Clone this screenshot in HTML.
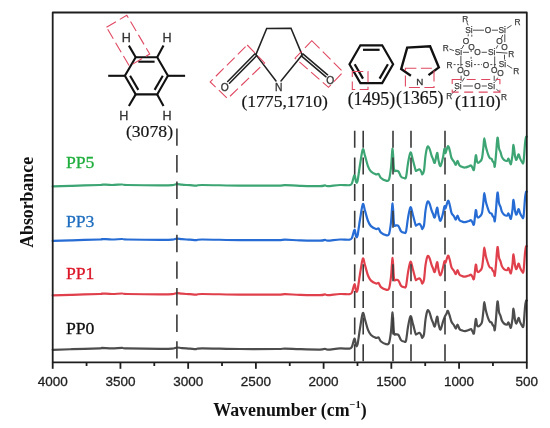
<!DOCTYPE html>
<html><head><meta charset="utf-8"><title>FTIR spectra</title>
<style>html,body{margin:0;padding:0;background:#fff;}svg{display:block;}</style></head>
<body>
<svg width="550" height="428" viewBox="0 0 550 428">
<rect width="550" height="428" fill="#fff"/>
<path d="M52.70,186.41C55.92,186.31 64.12,186.04 72.00,185.80C79.88,185.57 95.00,185.21 100.00,185.00C105.00,184.78 100.00,184.49 102.00,184.49C104.00,184.49 108.67,185.00 112.00,185.00C115.33,185.00 119.50,184.49 122.00,184.49C124.50,184.49 120.67,184.84 127.00,185.00C133.33,185.15 152.50,185.37 160.00,185.40C167.50,185.43 169.17,185.42 172.00,185.20C174.83,184.98 175.33,184.17 177.00,184.09C178.67,184.00 179.83,184.51 182.00,184.69C184.17,184.88 187.67,185.03 190.00,185.20C192.33,185.37 194.00,185.74 196.00,185.70C198.00,185.67 194.67,185.01 202.00,185.00C209.33,184.98 227.50,185.50 240.00,185.60C252.50,185.70 269.50,185.67 277.00,185.60C284.50,185.53 281.17,185.16 285.00,185.20C288.83,185.23 294.17,185.64 300.00,185.80C305.83,185.97 315.83,186.28 320.00,186.21C324.17,186.14 323.67,185.40 325.00,185.40C326.33,185.40 325.50,186.28 328.00,186.21C330.50,186.14 336.42,185.16 340.00,185.00C343.58,184.83 347.50,185.50 349.50,185.20C351.50,184.90 351.17,184.86 352.00,183.18C352.83,181.49 353.83,175.35 354.50,175.10C355.17,174.85 355.50,180.65 356.00,181.66C356.50,182.67 356.83,183.97 357.50,181.16C358.17,178.35 359.12,170.10 360.00,164.80C360.88,159.49 361.97,150.82 362.80,149.34C363.63,147.86 364.13,153.08 365.00,155.91C365.87,158.74 367.00,163.72 368.00,166.31C369.00,168.90 369.67,170.12 371.00,171.46C372.33,172.81 374.75,173.99 376.00,174.39C377.25,174.80 377.67,173.28 378.50,173.89C379.33,174.49 379.75,176.90 381.00,178.03C382.25,179.15 384.67,180.40 386.00,180.65C387.33,180.91 388.17,181.70 389.00,179.54C389.83,177.39 390.40,172.88 391.00,167.72C391.60,162.57 392.10,148.38 392.60,148.64C393.10,148.89 393.43,165.57 394.00,169.24C394.57,172.91 395.25,170.28 396.00,170.65C396.75,171.02 397.67,170.47 398.50,171.46C399.33,172.46 400.08,175.52 401.00,176.61C401.92,177.71 403.17,177.94 404.00,178.03C404.83,178.11 405.33,179.56 406.00,177.12C406.67,174.68 407.25,167.51 408.00,163.38C408.75,159.26 409.67,152.86 410.50,152.37C411.33,151.88 412.17,157.52 413.00,160.45C413.83,163.38 414.92,168.25 415.50,169.95C416.08,171.65 415.85,170.77 416.50,170.65C417.15,170.54 418.58,169.00 419.40,169.24C420.22,169.48 420.92,171.21 421.40,172.07C421.88,172.93 421.87,174.63 422.30,174.39C422.73,174.16 423.47,173.73 424.00,170.65C424.53,167.57 424.92,159.88 425.50,155.91C426.08,151.94 426.83,148.03 427.50,146.82C428.17,145.61 428.83,147.22 429.50,148.64C430.17,150.05 430.92,153.58 431.50,155.30C432.08,157.02 432.45,157.69 433.00,158.94C433.55,160.18 434.12,163.79 434.80,162.78C435.48,161.77 436.48,153.30 437.10,152.88C437.72,152.46 437.93,158.05 438.50,160.25C439.07,162.46 439.75,166.58 440.50,166.11C441.25,165.64 442.33,160.34 443.00,157.42C443.67,154.51 444.08,149.36 444.50,148.64C444.92,147.91 444.92,153.50 445.50,153.08C446.08,152.66 447.25,146.36 448.00,146.11C448.75,145.86 449.42,149.58 450.00,151.56C450.58,153.55 450.83,156.35 451.50,158.03C452.17,159.71 453.28,160.50 454.00,161.67C454.72,162.83 455.22,165.12 455.80,165.00C456.38,164.88 456.88,160.89 457.50,160.96C458.12,161.03 458.75,164.43 459.50,165.40C460.25,166.38 461.08,166.46 462.00,166.82C462.92,167.17 463.83,167.61 465.00,167.52C466.17,167.44 468.00,166.65 469.00,166.31C470.00,165.97 470.42,165.27 471.00,165.50C471.58,165.74 472.00,167.05 472.50,167.72C473.00,168.40 473.45,171.60 474.00,169.54C474.55,167.49 475.30,156.73 475.80,155.40C476.30,154.07 476.63,160.32 477.00,161.56C477.37,162.81 477.50,162.88 478.00,162.88C478.50,162.88 479.33,162.34 480.00,161.56C480.67,160.79 481.42,160.82 482.00,158.23C482.58,155.64 483.12,149.34 483.50,146.01C483.88,142.68 483.93,138.23 484.30,138.23C484.67,138.23 485.25,143.89 485.70,146.01C486.15,148.13 486.50,149.29 487.00,150.96C487.50,152.63 488.20,154.80 488.70,156.01C489.20,157.22 489.53,157.78 490.00,158.23C490.47,158.69 491.08,158.28 491.50,158.74C491.92,159.19 492.08,160.22 492.50,160.96C492.92,161.70 493.62,162.25 494.00,163.18C494.38,164.11 494.47,167.89 494.80,166.51C495.13,165.13 495.55,159.71 496.00,154.90C496.45,150.08 497.00,138.74 497.50,137.63C498.00,136.52 498.50,145.82 499.00,148.23C499.50,150.64 500.00,150.59 500.50,152.07C501.00,153.55 501.42,155.82 502.00,157.12C502.58,158.42 503.17,159.21 504.00,159.85C504.83,160.49 506.25,161.14 507.00,160.96C507.75,160.77 508.00,158.45 508.50,158.74C509.00,159.02 509.58,161.83 510.00,162.68C510.42,163.52 510.58,165.08 511.00,163.79C511.42,162.49 512.08,158.05 512.50,154.90C512.92,151.75 513.08,144.71 513.50,144.90C513.92,145.08 514.50,153.52 515.00,156.01C515.50,158.50 515.92,160.13 516.50,159.85C517.08,159.56 517.92,154.56 518.50,154.29C519.08,154.02 519.42,156.93 520.00,158.23C520.58,159.53 521.42,161.43 522.00,162.07C522.58,162.71 523.00,165.12 523.50,162.07C524.00,159.02 524.58,147.95 525.00,143.79C525.42,139.63 525.70,138.30 526.00,137.12C526.30,135.94 526.67,136.79 526.80,136.72" fill="none" stroke="#3ca573" stroke-width="2.2" stroke-linejoin="round" stroke-linecap="round"/>
<path d="M52.70,240.90C55.92,240.80 64.12,240.53 72.00,240.30C79.88,240.07 95.00,239.72 100.00,239.50C105.00,239.28 100.00,239.00 102.00,239.00C104.00,239.00 108.67,239.50 112.00,239.50C115.33,239.50 119.50,239.00 122.00,239.00C124.50,239.00 120.67,239.35 127.00,239.50C133.33,239.65 152.50,239.87 160.00,239.90C167.50,239.93 169.17,239.92 172.00,239.70C174.83,239.48 175.33,238.68 177.00,238.60C178.67,238.52 179.83,239.02 182.00,239.20C184.17,239.38 187.67,239.53 190.00,239.70C192.33,239.87 194.00,240.23 196.00,240.20C198.00,240.17 194.67,239.52 202.00,239.50C209.33,239.48 227.50,240.00 240.00,240.10C252.50,240.20 269.50,240.17 277.00,240.10C284.50,240.03 281.17,239.67 285.00,239.70C288.83,239.73 294.17,240.13 300.00,240.30C305.83,240.47 315.83,240.77 320.00,240.70C324.17,240.63 323.67,239.90 325.00,239.90C326.33,239.90 325.50,240.77 328.00,240.70C330.50,240.63 336.42,239.67 340.00,239.50C343.58,239.33 347.50,240.00 349.50,239.70C351.50,239.40 351.17,239.37 352.00,237.70C352.83,236.03 353.83,229.95 354.50,229.70C355.17,229.45 355.50,235.20 356.00,236.20C356.50,237.20 356.83,238.48 357.50,235.70C358.17,232.92 359.12,224.75 360.00,219.50C360.88,214.25 361.97,205.67 362.80,204.20C363.63,202.73 364.13,207.90 365.00,210.70C365.87,213.50 367.00,218.43 368.00,221.00C369.00,223.57 369.67,224.77 371.00,226.10C372.33,227.43 374.75,228.60 376.00,229.00C377.25,229.40 377.67,227.90 378.50,228.50C379.33,229.10 379.75,231.48 381.00,232.60C382.25,233.72 384.67,234.95 386.00,235.20C387.33,235.45 388.17,236.23 389.00,234.10C389.83,231.97 390.40,227.50 391.00,222.40C391.60,217.30 392.10,203.25 392.60,203.50C393.10,203.75 393.43,220.27 394.00,223.90C394.57,227.53 395.25,224.93 396.00,225.30C396.75,225.67 397.67,225.12 398.50,226.10C399.33,227.08 400.08,230.12 401.00,231.20C401.92,232.28 403.17,232.52 404.00,232.60C404.83,232.68 405.33,234.12 406.00,231.70C406.67,229.28 407.25,222.18 408.00,218.10C408.75,214.02 409.67,207.68 410.50,207.20C411.33,206.72 412.17,212.30 413.00,215.20C413.83,218.10 414.92,222.92 415.50,224.60C416.08,226.28 415.85,225.42 416.50,225.30C417.15,225.18 418.58,223.67 419.40,223.90C420.22,224.13 420.92,225.85 421.40,226.70C421.88,227.55 421.87,229.23 422.30,229.00C422.73,228.77 423.47,228.35 424.00,225.30C424.53,222.25 424.92,214.63 425.50,210.70C426.08,206.77 426.83,202.90 427.50,201.70C428.17,200.50 428.83,202.10 429.50,203.50C430.17,204.90 430.92,208.40 431.50,210.10C432.08,211.80 432.45,212.47 433.00,213.70C433.55,214.93 434.12,218.50 434.80,217.50C435.48,216.50 436.48,208.12 437.10,207.70C437.72,207.28 437.93,212.82 438.50,215.00C439.07,217.18 439.75,221.10 440.50,220.80C441.25,220.50 442.33,215.63 443.00,213.20C443.67,210.77 444.08,207.00 444.50,206.20C444.92,205.40 444.92,209.30 445.50,208.40C446.08,207.50 447.28,201.33 448.00,200.80C448.72,200.27 449.22,203.20 449.80,205.20C450.38,207.20 450.80,210.93 451.50,212.80C452.20,214.67 453.28,215.25 454.00,216.40C454.72,217.55 455.22,219.82 455.80,219.70C456.38,219.58 456.88,215.63 457.50,215.70C458.12,215.77 458.75,219.13 459.50,220.10C460.25,221.07 461.08,221.15 462.00,221.50C462.92,221.85 463.83,222.28 465.00,222.20C466.17,222.12 468.00,221.33 469.00,221.00C470.00,220.67 470.42,219.97 471.00,220.20C471.58,220.43 472.00,221.73 472.50,222.40C473.00,223.07 473.45,226.23 474.00,224.20C474.55,222.17 475.30,211.52 475.80,210.20C476.30,208.88 476.63,215.07 477.00,216.30C477.37,217.53 477.50,217.60 478.00,217.60C478.50,217.60 479.33,217.07 480.00,216.30C480.67,215.53 481.42,215.57 482.00,213.00C482.58,210.43 483.12,204.20 483.50,200.90C483.88,197.60 483.93,193.20 484.30,193.20C484.67,193.20 485.25,198.80 485.70,200.90C486.15,203.00 486.50,204.15 487.00,205.80C487.50,207.45 488.20,209.60 488.70,210.80C489.20,212.00 489.53,212.55 490.00,213.00C490.47,213.45 491.08,213.05 491.50,213.50C491.92,213.95 492.08,214.97 492.50,215.70C492.92,216.43 493.62,216.98 494.00,217.90C494.38,218.82 494.47,222.57 494.80,221.20C495.13,219.83 495.55,214.47 496.00,209.70C496.45,204.93 497.00,193.70 497.50,192.60C498.00,191.50 498.50,200.72 499.00,203.10C499.50,205.48 500.00,205.43 500.50,206.90C501.00,208.37 501.42,210.62 502.00,211.90C502.58,213.18 503.17,213.97 504.00,214.60C504.83,215.23 506.25,215.88 507.00,215.70C507.75,215.52 508.00,213.22 508.50,213.50C509.00,213.78 509.58,216.57 510.00,217.40C510.42,218.23 510.58,219.78 511.00,218.50C511.42,217.22 512.08,212.82 512.50,209.70C512.92,206.58 513.08,199.62 513.50,199.80C513.92,199.98 514.50,208.33 515.00,210.80C515.50,213.27 515.92,214.88 516.50,214.60C517.08,214.32 517.92,209.37 518.50,209.10C519.08,208.83 519.42,211.72 520.00,213.00C520.58,214.28 521.42,216.17 522.00,216.80C522.58,217.43 523.00,219.82 523.50,216.80C524.00,213.78 524.58,202.82 525.00,198.70C525.42,194.58 525.70,193.27 526.00,192.10C526.30,190.93 526.67,191.77 526.80,191.70" fill="none" stroke="#266cd4" stroke-width="2.2" stroke-linejoin="round" stroke-linecap="round"/>
<path d="M52.70,295.40C55.92,295.30 64.12,295.03 72.00,294.80C79.88,294.57 95.00,294.22 100.00,294.00C105.00,293.78 100.00,293.50 102.00,293.50C104.00,293.50 108.67,294.00 112.00,294.00C115.33,294.00 119.50,293.50 122.00,293.50C124.50,293.50 120.67,293.85 127.00,294.00C133.33,294.15 152.50,294.37 160.00,294.40C167.50,294.43 169.17,294.42 172.00,294.20C174.83,293.98 175.33,293.18 177.00,293.10C178.67,293.02 179.83,293.52 182.00,293.70C184.17,293.88 187.67,294.03 190.00,294.20C192.33,294.37 194.00,294.73 196.00,294.70C198.00,294.67 194.67,294.02 202.00,294.00C209.33,293.98 227.50,294.50 240.00,294.60C252.50,294.70 269.50,294.67 277.00,294.60C284.50,294.53 281.17,294.17 285.00,294.20C288.83,294.23 294.17,294.63 300.00,294.80C305.83,294.97 315.83,295.27 320.00,295.20C324.17,295.13 323.67,294.40 325.00,294.40C326.33,294.40 325.50,295.27 328.00,295.20C330.50,295.13 336.42,294.17 340.00,294.00C343.58,293.83 347.50,294.50 349.50,294.20C351.50,293.90 351.17,293.87 352.00,292.20C352.83,290.53 353.83,284.45 354.50,284.20C355.17,283.95 355.50,289.70 356.00,290.70C356.50,291.70 356.83,292.98 357.50,290.20C358.17,287.42 359.12,279.25 360.00,274.00C360.88,268.75 361.97,260.17 362.80,258.70C363.63,257.23 364.13,262.40 365.00,265.20C365.87,268.00 367.00,272.93 368.00,275.50C369.00,278.07 369.67,279.27 371.00,280.60C372.33,281.93 374.75,283.10 376.00,283.50C377.25,283.90 377.67,282.40 378.50,283.00C379.33,283.60 379.75,285.98 381.00,287.10C382.25,288.22 384.67,289.45 386.00,289.70C387.33,289.95 388.17,290.73 389.00,288.60C389.83,286.47 390.40,282.00 391.00,276.90C391.60,271.80 392.10,257.75 392.60,258.00C393.10,258.25 393.43,274.77 394.00,278.40C394.57,282.03 395.25,279.43 396.00,279.80C396.75,280.17 397.67,279.62 398.50,280.60C399.33,281.58 400.08,284.62 401.00,285.70C401.92,286.78 403.17,287.02 404.00,287.10C404.83,287.18 405.33,288.62 406.00,286.20C406.67,283.78 407.25,276.68 408.00,272.60C408.75,268.52 409.67,262.18 410.50,261.70C411.33,261.22 412.17,266.80 413.00,269.70C413.83,272.60 414.92,277.42 415.50,279.10C416.08,280.78 415.85,279.92 416.50,279.80C417.15,279.68 418.58,278.17 419.40,278.40C420.22,278.63 420.92,280.35 421.40,281.20C421.88,282.05 421.87,283.73 422.30,283.50C422.73,283.27 423.47,282.85 424.00,279.80C424.53,276.75 424.92,269.13 425.50,265.20C426.08,261.27 426.83,257.40 427.50,256.20C428.17,255.00 428.83,256.60 429.50,258.00C430.17,259.40 430.92,262.90 431.50,264.60C432.08,266.30 432.45,266.97 433.00,268.20C433.55,269.43 434.12,273.00 434.80,272.00C435.48,271.00 436.48,262.62 437.10,262.20C437.72,261.78 437.93,267.32 438.50,269.50C439.07,271.68 439.75,275.63 440.50,275.30C441.25,274.97 442.33,269.85 443.00,267.50C443.67,265.15 444.08,262.00 444.50,261.20C444.92,260.40 444.92,263.60 445.50,262.70C446.08,261.80 447.28,256.25 448.00,255.80C448.72,255.35 449.22,258.08 449.80,260.00C450.38,261.92 450.80,265.48 451.50,267.30C452.20,269.12 453.28,269.75 454.00,270.90C454.72,272.05 455.22,274.32 455.80,274.20C456.38,274.08 456.88,270.13 457.50,270.20C458.12,270.27 458.75,273.63 459.50,274.60C460.25,275.57 461.08,275.65 462.00,276.00C462.92,276.35 463.83,276.78 465.00,276.70C466.17,276.62 468.00,275.83 469.00,275.50C470.00,275.17 470.42,274.47 471.00,274.70C471.58,274.93 472.00,276.23 472.50,276.90C473.00,277.57 473.45,280.73 474.00,278.70C474.55,276.67 475.30,266.02 475.80,264.70C476.30,263.38 476.63,269.57 477.00,270.80C477.37,272.03 477.50,272.10 478.00,272.10C478.50,272.10 479.33,271.57 480.00,270.80C480.67,270.03 481.42,270.07 482.00,267.50C482.58,264.93 483.12,258.70 483.50,255.40C483.88,252.10 483.93,247.70 484.30,247.70C484.67,247.70 485.25,253.30 485.70,255.40C486.15,257.50 486.50,258.65 487.00,260.30C487.50,261.95 488.20,264.10 488.70,265.30C489.20,266.50 489.53,267.05 490.00,267.50C490.47,267.95 491.08,267.55 491.50,268.00C491.92,268.45 492.08,269.47 492.50,270.20C492.92,270.93 493.62,271.48 494.00,272.40C494.38,273.32 494.47,277.07 494.80,275.70C495.13,274.33 495.55,268.97 496.00,264.20C496.45,259.43 497.00,248.20 497.50,247.10C498.00,246.00 498.50,255.22 499.00,257.60C499.50,259.98 500.00,259.93 500.50,261.40C501.00,262.87 501.42,265.12 502.00,266.40C502.58,267.68 503.17,268.47 504.00,269.10C504.83,269.73 506.25,270.38 507.00,270.20C507.75,270.02 508.00,267.72 508.50,268.00C509.00,268.28 509.58,271.07 510.00,271.90C510.42,272.73 510.58,274.28 511.00,273.00C511.42,271.72 512.08,267.32 512.50,264.20C512.92,261.08 513.08,254.12 513.50,254.30C513.92,254.48 514.50,262.83 515.00,265.30C515.50,267.77 515.92,269.38 516.50,269.10C517.08,268.82 517.92,263.87 518.50,263.60C519.08,263.33 519.42,266.22 520.00,267.50C520.58,268.78 521.42,270.67 522.00,271.30C522.58,271.93 523.00,274.32 523.50,271.30C524.00,268.28 524.58,257.32 525.00,253.20C525.42,249.08 525.70,247.77 526.00,246.60C526.30,245.43 526.67,246.27 526.80,246.20" fill="none" stroke="#e0404c" stroke-width="2.2" stroke-linejoin="round" stroke-linecap="round"/>
<path d="M52.70,349.80C55.92,349.70 64.12,349.43 72.00,349.20C79.88,348.97 95.00,348.62 100.00,348.40C105.00,348.18 100.00,347.90 102.00,347.90C104.00,347.90 108.67,348.40 112.00,348.40C115.33,348.40 119.50,347.90 122.00,347.90C124.50,347.90 120.67,348.25 127.00,348.40C133.33,348.55 152.50,348.77 160.00,348.80C167.50,348.83 169.17,348.82 172.00,348.60C174.83,348.38 175.33,347.58 177.00,347.50C178.67,347.42 179.83,347.92 182.00,348.10C184.17,348.28 187.67,348.43 190.00,348.60C192.33,348.77 194.00,349.13 196.00,349.10C198.00,349.07 194.67,348.42 202.00,348.40C209.33,348.38 227.50,348.90 240.00,349.00C252.50,349.10 269.50,349.07 277.00,349.00C284.50,348.93 281.17,348.57 285.00,348.60C288.83,348.63 294.17,349.03 300.00,349.20C305.83,349.37 315.83,349.67 320.00,349.60C324.17,349.53 323.67,348.80 325.00,348.80C326.33,348.80 325.50,349.67 328.00,349.60C330.50,349.53 336.42,348.57 340.00,348.40C343.58,348.23 347.50,348.90 349.50,348.60C351.50,348.30 351.17,348.27 352.00,346.60C352.83,344.93 353.83,338.85 354.50,338.60C355.17,338.35 355.50,344.10 356.00,345.10C356.50,346.10 356.83,347.38 357.50,344.60C358.17,341.82 359.12,333.65 360.00,328.40C360.88,323.15 361.97,314.57 362.80,313.10C363.63,311.63 364.13,316.80 365.00,319.60C365.87,322.40 367.00,327.33 368.00,329.90C369.00,332.47 369.67,333.67 371.00,335.00C372.33,336.33 374.75,337.50 376.00,337.90C377.25,338.30 377.67,336.80 378.50,337.40C379.33,338.00 379.75,340.38 381.00,341.50C382.25,342.62 384.67,343.85 386.00,344.10C387.33,344.35 388.17,345.13 389.00,343.00C389.83,340.87 390.40,336.40 391.00,331.30C391.60,326.20 392.10,312.15 392.60,312.40C393.10,312.65 393.43,329.17 394.00,332.80C394.57,336.43 395.25,333.83 396.00,334.20C396.75,334.57 397.67,334.02 398.50,335.00C399.33,335.98 400.08,339.02 401.00,340.10C401.92,341.18 403.17,341.42 404.00,341.50C404.83,341.58 405.33,343.02 406.00,340.60C406.67,338.18 407.25,331.08 408.00,327.00C408.75,322.92 409.67,316.58 410.50,316.10C411.33,315.62 412.17,321.20 413.00,324.10C413.83,327.00 414.92,331.82 415.50,333.50C416.08,335.18 415.85,334.32 416.50,334.20C417.15,334.08 418.58,332.57 419.40,332.80C420.22,333.03 420.92,334.75 421.40,335.60C421.88,336.45 421.87,338.13 422.30,337.90C422.73,337.67 423.47,337.25 424.00,334.20C424.53,331.15 424.92,323.53 425.50,319.60C426.08,315.67 426.83,311.80 427.50,310.60C428.17,309.40 428.83,311.00 429.50,312.40C430.17,313.80 430.92,317.30 431.50,319.00C432.08,320.70 432.45,321.37 433.00,322.60C433.55,323.83 434.12,327.40 434.80,326.40C435.48,325.40 436.48,317.02 437.10,316.60C437.72,316.18 437.93,321.72 438.50,323.90C439.07,326.08 439.75,330.07 440.50,329.70C441.25,329.33 442.25,323.95 443.00,321.70C443.75,319.45 444.42,317.53 445.00,316.20C445.58,314.87 446.03,314.60 446.50,313.70C446.97,312.80 447.30,310.57 447.80,310.80C448.30,311.03 448.88,313.28 449.50,315.10C450.12,316.92 450.75,320.00 451.50,321.70C452.25,323.40 453.28,324.15 454.00,325.30C454.72,326.45 455.22,328.72 455.80,328.60C456.38,328.48 456.88,324.53 457.50,324.60C458.12,324.67 458.75,328.03 459.50,329.00C460.25,329.97 461.08,330.05 462.00,330.40C462.92,330.75 463.83,331.18 465.00,331.10C466.17,331.02 468.00,330.23 469.00,329.90C470.00,329.57 470.42,328.87 471.00,329.10C471.58,329.33 472.00,330.63 472.50,331.30C473.00,331.97 473.45,335.13 474.00,333.10C474.55,331.07 475.30,320.42 475.80,319.10C476.30,317.78 476.63,323.97 477.00,325.20C477.37,326.43 477.50,326.50 478.00,326.50C478.50,326.50 479.33,325.97 480.00,325.20C480.67,324.43 481.42,324.47 482.00,321.90C482.58,319.33 483.12,313.10 483.50,309.80C483.88,306.50 483.93,302.10 484.30,302.10C484.67,302.10 485.25,307.70 485.70,309.80C486.15,311.90 486.50,313.05 487.00,314.70C487.50,316.35 488.20,318.50 488.70,319.70C489.20,320.90 489.53,321.45 490.00,321.90C490.47,322.35 491.08,321.95 491.50,322.40C491.92,322.85 492.08,323.87 492.50,324.60C492.92,325.33 493.62,325.88 494.00,326.80C494.38,327.72 494.47,331.47 494.80,330.10C495.13,328.73 495.55,323.37 496.00,318.60C496.45,313.83 497.00,302.60 497.50,301.50C498.00,300.40 498.50,309.62 499.00,312.00C499.50,314.38 500.00,314.33 500.50,315.80C501.00,317.27 501.42,319.52 502.00,320.80C502.58,322.08 503.17,322.87 504.00,323.50C504.83,324.13 506.25,324.78 507.00,324.60C507.75,324.42 508.00,322.12 508.50,322.40C509.00,322.68 509.58,325.47 510.00,326.30C510.42,327.13 510.58,328.68 511.00,327.40C511.42,326.12 512.08,321.72 512.50,318.60C512.92,315.48 513.08,308.52 513.50,308.70C513.92,308.88 514.50,317.23 515.00,319.70C515.50,322.17 515.92,323.78 516.50,323.50C517.08,323.22 517.92,318.27 518.50,318.00C519.08,317.73 519.42,320.62 520.00,321.90C520.58,323.18 521.42,325.07 522.00,325.70C522.58,326.33 523.00,328.72 523.50,325.70C524.00,322.68 524.58,311.72 525.00,307.60C525.42,303.48 525.70,302.17 526.00,301.00C526.30,299.83 526.67,300.67 526.80,300.60" fill="none" stroke="#4d4d4d" stroke-width="2.2" stroke-linejoin="round" stroke-linecap="round"/>
<g stroke="#3a3a3a" stroke-width="1.6" fill="none">
<line x1="176.9" y1="128.4" x2="176.9" y2="362" stroke-dasharray="17.4 9.2"/>
<line x1="354.7" y1="130.7" x2="354.7" y2="362" stroke-dasharray="17 9.7"/>
<line x1="363.2" y1="130.7" x2="363.2" y2="362" stroke-dasharray="17 9.7"/>
<line x1="393.0" y1="130.7" x2="393.0" y2="362" stroke-dasharray="17 9.7"/>
<line x1="411.0" y1="130.7" x2="411.0" y2="362" stroke-dasharray="17 9.7"/>
<line x1="445.0" y1="130.7" x2="445.0" y2="362" stroke-dasharray="17 9.7"/>
</g>
<rect x="52.7" y="12.5" width="474.09999999999997" height="349.8" fill="none" stroke="#1e1e1e" stroke-width="1.8" stroke-linejoin="round"/>
<g stroke="#1e1e1e" stroke-width="1.8">
<line x1="52.70" y1="362.3" x2="52.70" y2="368.8"/>
<line x1="86.56" y1="362.3" x2="86.56" y2="366.0"/>
<line x1="120.43" y1="362.3" x2="120.43" y2="368.8"/>
<line x1="154.29" y1="362.3" x2="154.29" y2="366.0"/>
<line x1="188.16" y1="362.3" x2="188.16" y2="368.8"/>
<line x1="222.02" y1="362.3" x2="222.02" y2="366.0"/>
<line x1="255.89" y1="362.3" x2="255.89" y2="368.8"/>
<line x1="289.75" y1="362.3" x2="289.75" y2="366.0"/>
<line x1="323.61" y1="362.3" x2="323.61" y2="368.8"/>
<line x1="357.48" y1="362.3" x2="357.48" y2="366.0"/>
<line x1="391.34" y1="362.3" x2="391.34" y2="368.8"/>
<line x1="425.21" y1="362.3" x2="425.21" y2="366.0"/>
<line x1="459.07" y1="362.3" x2="459.07" y2="368.8"/>
<line x1="492.94" y1="362.3" x2="492.94" y2="366.0"/>
<line x1="526.80" y1="362.3" x2="526.80" y2="368.8"/>
</g>
<g font-family="Liberation Sans, Arial, sans-serif" font-size="13.5" fill="#1e1e1e" stroke="#1e1e1e" stroke-width="0.3" text-anchor="middle">
<text x="52.70" y="386.4">4000</text>
<text x="120.43" y="386.4">3500</text>
<text x="188.16" y="386.4">3000</text>
<text x="255.89" y="386.4">2500</text>
<text x="323.61" y="386.4">2000</text>
<text x="391.34" y="386.4">1500</text>
<text x="459.07" y="386.4">1000</text>
<text x="526.80" y="386.4">500</text>
</g>
<text x="290" y="415.5" font-family="Liberation Serif, Times New Roman, serif" font-weight="bold" font-size="17.9" text-anchor="middle" fill="#111">Wavenumber (cm<tspan dy="-7.4" font-size="10.5">&#8722;1</tspan><tspan dy="7.4">)</tspan></text>
<text transform="translate(32.9,202.4) rotate(-90)" font-family="Liberation Serif, Times New Roman, serif" font-weight="bold" font-size="17.8" text-anchor="middle" fill="#111">Absorbance</text>
<text x="65.9" y="167.8" font-family="Liberation Serif, Times New Roman, serif" font-size="17.7" fill="#1fae3c" stroke="#1fae3c" stroke-width="0.3">PP5</text>
<text x="65.9" y="226.5" font-family="Liberation Serif, Times New Roman, serif" font-size="17.7" fill="#1f6ebf" stroke="#1f6ebf" stroke-width="0.3">PP3</text>
<text x="65.9" y="279.1" font-family="Liberation Serif, Times New Roman, serif" font-size="17.7" fill="#dc1628" stroke="#dc1628" stroke-width="0.3">PP1</text>
<text x="65.9" y="333.8" font-family="Liberation Serif, Times New Roman, serif" font-size="17.7" fill="#111" stroke="#111" stroke-width="0.3">PP0</text>
<text x="125.9" y="136.8" font-family="Liberation Serif, Times New Roman, serif" font-size="17.7" fill="#151515" stroke="#151515" stroke-width="0.2">(3078)</text>
<text x="241.4" y="106.6" font-family="Liberation Serif, Times New Roman, serif" font-size="17.6" fill="#151515" stroke="#151515" stroke-width="0.2">(1775,1710)</text>
<text x="347.7" y="104.6" font-family="Liberation Serif, Times New Roman, serif" font-size="17.8" fill="#151515" stroke="#151515" stroke-width="0.2">(1495)</text>
<text x="396.1" y="104.4" font-family="Liberation Serif, Times New Roman, serif" font-size="17.8" fill="#151515" stroke="#151515" stroke-width="0.2">(1365)</text>
<text x="454.9" y="106.6" font-family="Liberation Serif, Times New Roman, serif" font-size="17.7" fill="#151515" stroke="#151515" stroke-width="0.2">(1110)</text>
<polygon points="167.9,75.8 157.2,94.4 135.7,94.4 124.9,75.8 135.7,57.2 157.2,57.2" fill="none" stroke="#111" stroke-width="2.1" stroke-linejoin="miter"/>
<line x1="138.3" y1="61.7" x2="154.6" y2="61.7" stroke="#111" stroke-width="2.1"/>
<line x1="138.3" y1="89.9" x2="130.1" y2="75.8" stroke="#111" stroke-width="2.1"/>
<line x1="162.8" y1="75.8" x2="154.6" y2="89.9" stroke="#111" stroke-width="2.1"/>
<g stroke="#111" stroke-width="2.1">
<line x1="124.9" y1="75.8" x2="108.2" y2="75.8"/><line x1="167.9" y1="75.8" x2="185.1" y2="75.8"/>
<line x1="135.7" y1="57.2" x2="128.9" y2="45.6"/>
<line x1="157.2" y1="57.2" x2="163.5" y2="45.6"/>
<line x1="135.7" y1="94.4" x2="128.9" y2="106"/>
<line x1="157.2" y1="94.4" x2="163.5" y2="106"/>
</g>
<g font-family="Liberation Sans, Arial, sans-serif" font-size="12.6" fill="#333" stroke="#333" stroke-width="0.3" text-anchor="middle">
<text x="126.2" y="41.9">H</text><text x="167.1" y="41.9">H</text><text x="123.7" y="119.7">H</text><text x="167.1" y="119.7">H</text>
</g>
<polygon points="106.5,27.3 126.8,15.2 149.7,54 129.4,66.1" fill="none" stroke="#e04862" stroke-width="1.1" stroke-dasharray="11 4.5"/>
<g stroke="#222" stroke-width="1.55" fill="none" stroke-linecap="round">
<polyline points="255.9,54.6 266.7,28.4 291.0,28.2 302.1,54.9"/>
<line x1="255.9" y1="54.6" x2="276.0" y2="81.0"/><line x1="302.1" y1="54.9" x2="281.0" y2="81.0"/>
<line x1="255.0" y1="53.7" x2="227.7" y2="81.5"/>
<line x1="256.8" y1="55.5" x2="229.5" y2="83.3"/>
<line x1="301.3" y1="55.9" x2="326.0" y2="76.8"/>
<line x1="302.9" y1="53.9" x2="327.6" y2="74.8"/>
</g>
<g font-family="Liberation Sans, Arial, sans-serif" font-size="10.3" fill="#333" stroke="#333" stroke-width="0.3" text-anchor="middle">
<text x="224.8" y="90.7">O</text><text x="330.2" y="83.6">O</text><text x="278.8" y="90.8">N</text>
</g>
<polygon points="247.2,45 264.6,62.9 227.6,98.6 210.2,81.9" fill="none" stroke="#e04862" stroke-width="1.1" stroke-dasharray="11 4.5"/>
<polygon points="311.8,40.7 343.1,72 328.5,87.3 295.1,58.2" fill="none" stroke="#e04862" stroke-width="1.1" stroke-dasharray="11 4.5"/>
<polygon points="393.1,64.2 382.2,83.1 360.4,83.1 349.5,64.2 360.4,45.3 382.2,45.3" fill="none" stroke="#111" stroke-width="2.2" stroke-linejoin="miter"/>
<line x1="363.0" y1="49.8" x2="379.6" y2="49.8" stroke="#111" stroke-width="2.2"/>
<line x1="363.0" y1="78.6" x2="354.7" y2="64.2" stroke="#111" stroke-width="2.2"/>
<line x1="387.9" y1="64.2" x2="379.6" y2="78.6" stroke="#111" stroke-width="2.2"/>
<rect x="352.3" y="71.5" width="15.7" height="18" fill="none" stroke="#e04862" stroke-width="1.1" stroke-dasharray="11 4.5"/>
<polyline points="410.9,75.7 401.2,69.0 407.2,47.6 430.1,46.3 438.8,67.4 428.5,75.1" fill="none" stroke="#111" stroke-width="2.4" stroke-linejoin="miter"/>
<text x="419.7" y="84.6" font-family="Liberation Sans, Arial, sans-serif" font-size="9.8" fill="#333" stroke="#333" stroke-width="0.3" text-anchor="middle">N</text>
<rect x="405.4" y="68.2" width="28.6" height="19.3" fill="none" stroke="#e04862" stroke-width="1.1" stroke-dasharray="11 4.5"/>
<g font-family="Liberation Sans, Arial, sans-serif" font-size="8.3" fill="#3c3c3c" stroke="#3c3c3c" stroke-width="0.25" text-anchor="middle">
<text x="465.2" y="22.1">R</text>
<text x="468.9" y="32.7">Si</text>
<text x="488.0" y="33.1">O</text>
<text x="502.2" y="33.2">Si</text>
<text x="517.6" y="24.5">R</text>
<text x="466.0" y="44.2">O</text>
<text x="471.4" y="49.5">O</text>
<text x="499.6" y="44.2">O</text>
<text x="504.6" y="49.6">O</text>
<text x="445.7" y="51.2">R</text>
<text x="458.4" y="54.9">Si</text>
<text x="477.6" y="55.2">O</text>
<text x="491.6" y="55.1">Si</text>
<text x="511.3" y="56.9">R</text>
<text x="449.6" y="67.5">R</text>
<text x="468.8" y="66.9">Si</text>
<text x="486.1" y="67.5">O</text>
<text x="502.5" y="66.7">Si</text>
<text x="516.2" y="73.8">R</text>
<text x="460.5" y="72.7">O</text>
<text x="466.4" y="76.2">O</text>
<text x="494.2" y="72.5">O</text>
<text x="500.5" y="76.0">O</text>
<text x="457.9" y="88.9">Si</text>
<text x="477.4" y="88.9">O</text>
<text x="491.3" y="88.9">Si</text>
<text x="449.3" y="99.4">R</text>
<text x="504.0" y="100.3">R</text>
</g>
<g stroke="#444" stroke-width="0.95" stroke-linecap="round">
<line x1="473.4" y1="30.2" x2="483.6" y2="30.2"/>
<line x1="492.2" y1="30.2" x2="497.6" y2="30.2"/>
<line x1="507.1" y1="28.2" x2="511.2" y2="25.6"/>
<line x1="467.0" y1="22.8" x2="468.0" y2="25.0"/>
<line x1="504.8" y1="34.6" x2="504.8" y2="41.7"/>
<line x1="502.6" y1="35.3" x2="501.4" y2="38.0"/>
<line x1="463.7" y1="45.3" x2="462.1" y2="48.2"/>
<line x1="497.6" y1="45.7" x2="496.4" y2="48.2"/>
<line x1="449.8" y1="49.2" x2="453.5" y2="50.5"/>
<line x1="463.3" y1="52.3" x2="468.6" y2="52.3"/>
<line x1="482.0" y1="52.3" x2="486.5" y2="52.3"/>
<line x1="496.4" y1="52.3" x2="507.0" y2="53.1"/>
<line x1="504.5" y1="55.1" x2="504.5" y2="59.2"/>
<line x1="460.9" y1="56.4" x2="460.9" y2="66.2"/>
<line x1="494.7" y1="56.8" x2="494.7" y2="67.0"/>
<line x1="507.4" y1="65.4" x2="511.9" y2="68.2"/>
<line x1="461.1" y1="76.1" x2="461.1" y2="80.5"/>
<line x1="464.3" y1="78.0" x2="462.4" y2="81.2"/>
<line x1="494.2" y1="76.1" x2="494.2" y2="80.5"/>
<line x1="497.5" y1="78.0" x2="495.6" y2="81.2"/>
<line x1="463.6" y1="86.0" x2="472.5" y2="86.0"/>
<line x1="482.1" y1="86.0" x2="486.5" y2="86.0"/>
<line x1="456.0" y1="90.1" x2="452.2" y2="93.3"/>
<line x1="496.7" y1="89.5" x2="499.9" y2="92.0"/>
</g>
<g stroke="#444" stroke-width="0.95" stroke-dasharray="2 1.6">
<line x1="468.3" y1="34.3" x2="468.1" y2="37.5"/>
<line x1="471.8" y1="34.7" x2="471.8" y2="37.1"/>
<line x1="471.1" y1="50.0" x2="471.1" y2="53.5"/>
<line x1="471.1" y1="56.8" x2="471.1" y2="58.8"/>
<line x1="453.6" y1="64.6" x2="464.0" y2="64.6"/>
<line x1="474.0" y1="64.6" x2="482.0" y2="64.6"/>
<line x1="490.3" y1="64.6" x2="497.5" y2="64.6"/>
</g>
<rect x="452.2" y="79.5" width="47.7" height="12.6" fill="none" stroke="#e04862" stroke-width="1.1" stroke-dasharray="9 5.5"/>
</svg>
</body></html>
